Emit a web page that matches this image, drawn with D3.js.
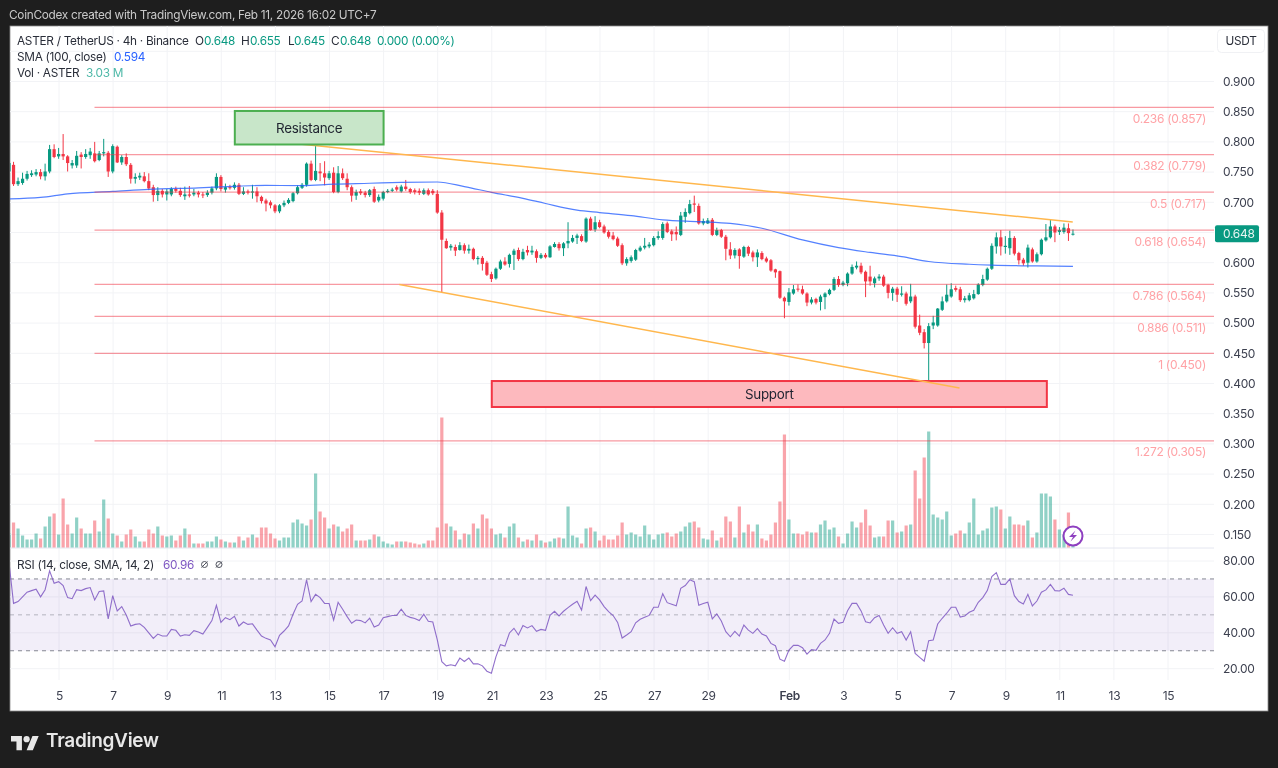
<!DOCTYPE html>
<html><head><meta charset="utf-8">
<script src="https://cdnjs.cloudflare.com/ajax/libs/d3/7.8.5/d3.min.js"></script>
<style>
html,body{margin:0;padding:0;background:#1e1e1e;overflow:hidden}
svg{display:block;font-family:Inter,"Open Sans",sans-serif;letter-spacing:-.28px;filter:blur(.4px)}
</style></head><body><svg id="c" width="1278" height="768"></svg>
<script>
const titleText = "CoinCodex created with TradingView.com, Feb 11, 2026 16:02 UTC+7";
const opens = [
.751,.762,.730,.732,.739,.745,.746,.750,.743,.751,
.788,.776,.780,.776,.761,.761,.779,.775,.778,.781,
.770,.781,.782,.751,.792,.766,.775,.762,.739,.741,
.743,.735,.725,.712,.719,.713,.713,.722,.719,.710,
.713,.713,.716,.713,.712,.716,.723,.742,.721,.725,
.724,.729,.714,.718,.716,.718,.709,.703,.700,.695,
.685,.695,.699,.702,.715,.724,.729,.764,.737,.751,
.748,.740,.749,.717,.748,.739,.725,.711,.718,.716,
.712,.722,.703,.706,.717,.719,.725,.718,.726,.722,
.720,.719,.714,.720,.719,.714,.683,.636,.625,.626,
.621,.629,.620,.623,.606,.608,.600,.581,.574,.590,
.602,.598,.613,.621,.606,.621,.617,.619,.608,.613,
.609,.626,.631,.624,.632,.635,.641,.644,.635,.673,
.655,.667,.660,.651,.645,.640,.629,.599,.603,.605,
.620,.625,.627,.629,.641,.641,.665,.652,.651,.646,
.676,.682,.698,.694,.665,.665,.671,.646,.654,.643,
.622,.612,.622,.610,.626,.617,.609,.616,.607,.604,
.589,.586,.542,.535,.549,.557,.556,.549,.534,.540,
.535,.543,.548,.555,.573,.563,.566,.582,.592,.595,
.585,.577,.566,.574,.577,.563,.550,.557,.547,.549,
.536,.544,.496,.485,.467,.496,.496,.522,.536,.544,
.558,.556,.538,.538,.541,.548,.563,.572,.590,.627,
.642,.626,.624,.641,.616,.605,.600,.622,.602,.614,
.637,.642,.660,.651,.651,.657,.648];
const closes = [
.765,.730,.735,.739,.747,.748,.750,.743,.751,.788,
.775,.780,.776,.765,.765,.777,.775,.780,.784,.768,
.781,.783,.751,.793,.766,.775,.763,.739,.742,.744,
.735,.723,.712,.719,.713,.718,.722,.719,.712,.713,
.711,.716,.713,.712,.716,.723,.742,.722,.725,.724,
.729,.714,.718,.716,.718,.710,.702,.698,.695,.685,
.695,.699,.704,.715,.725,.729,.764,.737,.752,.748,
.741,.748,.717,.748,.740,.725,.711,.717,.715,.712,
.720,.701,.709,.717,.719,.721,.721,.726,.722,.717,
.717,.716,.720,.713,.715,.683,.638,.624,.628,.620,
.629,.620,.623,.606,.608,.598,.580,.573,.590,.602,
.597,.613,.620,.606,.618,.617,.620,.608,.613,.609,
.627,.631,.624,.632,.636,.641,.645,.636,.673,.654,
.667,.659,.650,.643,.639,.628,.599,.606,.609,.621,
.625,.628,.630,.641,.644,.664,.651,.647,.647,.678,
.684,.697,.696,.665,.669,.670,.646,.654,.643,.623,
.612,.621,.611,.626,.615,.609,.617,.606,.602,.587,
.584,.542,.536,.551,.556,.556,.549,.534,.539,.534,
.544,.549,.555,.573,.563,.567,.582,.593,.595,.584,
.569,.569,.574,.577,.562,.550,.557,.547,.549,.532,
.544,.494,.484,.467,.495,.501,.524,.536,.547,.556,
.555,.538,.541,.546,.548,.564,.573,.590,.628,.642,
.627,.628,.641,.615,.604,.599,.625,.602,.614,.638,
.642,.660,.650,.654,.658,.649,.648];
const highs = [
.768,.767,.741,.749,.752,.753,.755,.755,.764,.795,
.796,.790,.813,.778,.770,.785,.783,.788,.790,.800,
.785,.805,.785,.796,.794,.778,.781,.765,.748,.749,
.750,.748,.729,.725,.722,.722,.725,.726,.724,.726,
.727,.722,.719,.717,.720,.726,.748,.745,.731,.729,
.733,.732,.725,.721,.729,.725,.711,.706,.703,.697,
.697,.703,.707,.717,.728,.732,.766,.769,.797,.765,
.768,.752,.758,.760,.756,.748,.728,.721,.722,.719,
.722,.726,.713,.719,.722,.724,.728,.729,.737,.724,
.723,.723,.723,.723,.722,.720,.687,.640,.631,.630,
.634,.632,.630,.625,.611,.611,.603,.585,.592,.605,
.609,.615,.623,.625,.623,.628,.628,.622,.616,.616,
.629,.634,.634,.634,.667,.646,.648,.647,.675,.676,
.677,.671,.663,.654,.651,.643,.632,.609,.612,.623,
.628,.641,.634,.644,.652,.667,.668,.655,.660,.684,
.690,.704,.711,.698,.673,.674,.674,.658,.656,.646,
.634,.624,.624,.628,.628,.620,.622,.619,.610,.606,
.590,.587,.544,.558,.563,.564,.562,.551,.543,.542,
.547,.551,.557,.576,.578,.570,.584,.597,.602,.600,
.587,.595,.577,.581,.580,.565,.560,.560,.561,.552,
.565,.547,.514,.490,.500,.512,.525,.544,.564,.566,
.562,.560,.545,.550,.555,.566,.580,.592,.632,.650,
.654,.644,.653,.644,.618,.608,.630,.625,.617,.640,
.664,.672,.663,.659,.665,.665,.655];
const lows = [
.748,.727,.727,.729,.736,.742,.743,.738,.736,.748,
.773,.772,.770,.751,.756,.757,.756,.772,.772,.766,
.768,.776,.742,.748,.765,.762,.760,.731,.731,.737,
.733,.720,.701,.702,.708,.703,.710,.716,.709,.704,
.708,.710,.708,.707,.709,.713,.720,.718,.716,.721,
.721,.712,.712,.713,.706,.700,.698,.685,.690,.682,
.682,.692,.697,.700,.713,.722,.726,.735,.735,.735,
.728,.737,.715,.715,.737,.720,.701,.704,.712,.708,
.709,.699,.700,.703,.715,.717,.718,.716,.719,.714,
.713,.712,.712,.711,.712,.681,.551,.623,.620,.611,
.620,.615,.615,.604,.597,.587,.578,.568,.572,.588,
.595,.592,.588,.603,.604,.612,.613,.600,.606,.607,
.608,.625,.620,.611,.624,.633,.631,.634,.633,.653,
.651,.657,.648,.640,.637,.626,.596,.595,.600,.603,
.618,.622,.624,.627,.638,.638,.649,.636,.637,.644,
.666,.680,.684,.663,.662,.664,.644,.644,.641,.604,
.606,.607,.590,.608,.611,.602,.593,.604,.600,.585,
.575,.540,.508,.529,.547,.552,.547,.528,.531,.531,
.521,.523,.546,.553,.560,.561,.561,.580,.589,.581,
.543,.562,.559,.570,.560,.541,.537,.535,.544,.529,
.533,.491,.480,.458,.4025,.490,.494,.520,.534,.542,
.552,.535,.534,.536,.539,.547,.561,.570,.588,.615,
.612,.615,.613,.612,.597,.595,.592,.600,.600,.612,
.635,.640,.634,.646,.648,.636,.645];
const volumes = [
14,25,19,12,8,8,14,9,21,31,
34,13,49,23,14,30,19,14,14,27,
16,48,29,14,12,6,13,18,11,6,
6,18,14,21,12,11,12,7,12,19,
13,4,4,4,6,6,11,8,6,5,
5,11,7,10,13,10,20,20,14,9,
7,10,10,25,28,24,22,28,74,36,
30,19,23,21,16,19,23,7,7,7,
8,13,11,6,4,3,6,6,6,5,
4,3,4,7,7,20,130,24,21,17,
8,14,13,24,19,33,29,19,13,14,
10,21,24,10,6,8,7,13,7,5,
6,9,10,9,41,12,10,4,19,20,
16,7,12,8,8,12,25,13,15,13,
11,22,13,8,13,14,15,11,14,16,
21,25,26,20,9,8,17,7,10,31,
26,10,41,15,23,16,23,9,7,13,
25,46,113,28,14,14,13,16,15,15,
23,27,18,20,11,4,14,26,20,25,
38,22,10,11,11,27,27,15,16,22,
23,77,49,90,116,33,30,28,36,12,
14,17,14,25,49,13,17,19,40,41,
38,19,31,23,23,22,27,10,15,54,
54,51,28,18,13,35,3.03];
const rsiValues = [
79,56.4,57.4,60,62.6,63.5,64.3,60,64,74.5,
67.6,68.5,66.3,59.6,59,64,63.5,64.6,65.2,58.3,
63,63.3,47.7,60.7,52.2,54.6,49.9,43.8,44.7,45,
43,40,36.9,39.3,38.2,38.2,41.9,41.4,38.2,38.9,
38.6,41.2,40.4,39.3,43,46.8,55.3,45.8,48.4,47.3,
49.2,43.8,46,44.7,45,41.5,38.2,36.9,36,32.2,
38.6,41,43.8,50.3,55.9,57.7,69.5,57.4,61.4,59.6,
56.4,56.3,47.1,57,53.1,49,45.3,47.1,46.8,45.5,
48.2,43.2,44.3,48.4,49,49.6,49.7,53.1,49.7,48.6,
48,46.8,50.3,46.4,46,36,23.9,21.6,22.2,21.6,
25.9,24,25.9,22.7,22.7,21.6,18.6,17.5,26.6,33.4,
32.6,39.9,42.5,38.8,44,42.7,44,40.8,41.9,41.4,
49.7,52,49.4,52,54,55.9,57.6,52.7,65.8,57.9,
61,58.3,54.6,51.8,49.6,45.8,37.1,38.8,40.6,45.6,
47.5,48.6,49.7,54.2,54.2,61.8,56.8,55.9,55,64.8,
66.3,69.5,68.5,55.3,56.3,57,47.7,50.5,46.6,40.6,
37.8,40.8,38.2,44.3,41.5,39.7,42.3,39.3,38.2,34.1,
32.8,25.3,24.2,30.4,33,33,31.7,28.1,30.7,30.2,
34.1,36,39.7,47.7,45.3,45.8,52.3,56.4,56.4,52.2,
46.2,45.5,48.4,49.7,44.3,39.7,42.8,39.7,40.6,36,
40.6,28.5,26.3,24.2,35.6,36,44.9,48.1,50.9,54.2,
54.2,48.8,49.4,51.4,52.5,57,59.6,63.5,71.3,73.5,
67,67,70,60.7,57.4,56,61.4,55,57.7,62.6,
63.9,67,63.5,63.3,64.8,61.4,60.96];
const smaBars = [0,7,13,23,31,42,50,57,65,72,80,87,95,101,107,114,119,126,131,138,145,153,160,167,176,184,191,198,204,213,218,228,236];
const smaValues = [.7055,.708,.714,.718,.7215,.724,.7265,.728,.7276,.730,.7315,.733,.7336,.726,.7165,.7066,.698,.687,.683,.678,.671,.668,.665,.657,.6377,.625,.617,.610,.602,.5974,.596,.5946,.594];
const fibLevels = ["0.236","0.382","0.5","0.618","0.786","0.886","1","1.272"];
const fibPrices = [.857,.779,.717,.654,.564,.511,.450,.305];
const priceTicks = [.15,.2,.25,.3,.35,.4,.45,.5,.55,.6,.65,.7,.75,.8,.85,.9];
const rsiTicks = [20,40,60,80];
const rsiLevels = [70,50,30];
const dayTicks = ["2026-01-05","2026-01-07","2026-01-09","2026-01-11","2026-01-13","2026-01-15","2026-01-17","2026-01-19","2026-01-21","2026-01-23","2026-01-25","2026-01-27","2026-01-29","2026-02-01","2026-02-03","2026-02-05","2026-02-07","2026-02-09","2026-02-11","2026-02-13","2026-02-15"];
const trendStart = ["2026-01-13T17:00Z","2026-01-17T14:00Z"];
const trendEnd = ["2026-02-11T11:30Z","2026-02-07T07:00Z"];
const trendFrom = [.7974,.5639];
const trendTo = [.6674,.3925];
const fibStart = "2026-01-06T07:30Z";
const boxNames = ["Resistance","Support"];
const boxStart = ["2026-01-11T12:00Z","2026-01-21T00:00Z"];
const boxEnd = ["2026-01-17T00:00Z","2026-02-10T12:30Z"];
const boxTop = [.8512,.4041];
const boxBottom = [.7957,.3611];
const boxFill = ["#c8e6c9","#fdb9be"];
const boxStroke = ["#4caf50","#f23645"];

const up="#089981", dn="#f23645", ink="#2a2e39";
const svg=d3.select("#c");
const L=10,R=1214,FR=1268,T=26,MB=548,RT=548,RB=680,FB=711;
const x=d3.scaleUtc().domain([new Date("2026-01-05T00:00Z"),new Date("2026-02-15T00:00Z")]).range([59,1168]);
const y=d3.scaleLinear().domain([.15,.9]).range([534.5,81.5]);
const yv=d3.scaleLinear().domain([0,130]).range([547.5,417.5]);
const yr=d3.scaleLinear().domain([20,80]).range([668.7,561]);
const barTime=i=>new Date(Date.UTC(2026,0,3,3,40)+i*4*3600e3);
const bx=i=>x(barTime(i));

svg.append("rect").attr("width",1278).attr("height",768).attr("fill","#1e1e1e");
svg.append("rect").attr("x",L).attr("y",T).attr("width",FR-L).attr("height",FB-T).attr("fill","#fff").attr("stroke","#8c8c8c").attr("stroke-width",.8);
svg.append("text").text(titleText).attr("x",9).attr("y",19).attr("font-size",11.8).attr("fill","#c9c9c9").attr("id","ttl");

const defs=svg.append("defs");
defs.append("clipPath").attr("id","pm").append("rect").attr("x",L).attr("y",T).attr("width",R-L).attr("height",MB-T);
defs.append("clipPath").attr("id","pr").append("rect").attr("x",L).attr("y",RT).attr("width",R-L).attr("height",RB-RT);

// grid
const grid=svg.append("g").attr("stroke","#f2f3f6").attr("stroke-width",1);
const dates=dayTicks.map(d=>new Date(d+"T00:00Z"));
grid.selectAll("line.v").data(dates).join("line").attr("x1",d=>x(d)).attr("x2",d=>x(d)).attr("y1",T).attr("y2",RB);
grid.selectAll("line.h").data(priceTicks.concat([.95])).join("line").attr("class","h").attr("x1",L).attr("x2",R).attr("y1",d=>y(d)).attr("y2",d=>y(d));
grid.selectAll("line.r").data(rsiTicks).join("line").attr("class","r").attr("x1",L).attr("x2",R).attr("y1",d=>yr(d)).attr("y2",d=>yr(d));
svg.append("line").attr("x1",L).attr("x2",R).attr("y1",548).attr("y2",548).attr("stroke","#e4e6f0");

// volume + candles
const main=svg.append("g").attr("clip-path","url(#pm)");
const idx=d3.range(closes.length);
const isUp=i=>closes[i]>=opens[i];
main.append("g").selectAll("rect").data(idx).join("rect")
 .attr("x",i=>bx(i)-1.6).attr("width",3.2).attr("y",i=>yv(volumes[i])).attr("height",i=>yv(0)-yv(volumes[i]))
 .attr("fill",i=>isUp(i)?up:dn).attr("opacity",.45);
main.append("g").selectAll("line").data(idx).join("line")
 .attr("x1",i=>bx(i)).attr("x2",i=>bx(i)).attr("y1",i=>y(highs[i])).attr("y2",i=>y(lows[i]))
 .attr("stroke",i=>isUp(i)?up:dn).attr("stroke-width",1);
main.append("g").selectAll("rect").data(idx).join("rect")
 .attr("x",i=>bx(i)-1.6).attr("width",3.2).attr("y",i=>y(Math.max(opens[i],closes[i])))
 .attr("height",i=>Math.max(1,Math.abs(y(opens[i])-y(closes[i]))))
 .attr("fill",i=>isUp(i)?up:dn);

// SMA
main.append("path").datum(smaBars.map((b,k)=>[b,smaValues[k]]))
 .attr("d",d3.line().x(d=>bx(d[0])).y(d=>y(d[1])).curve(d3.curveMonotoneX))
 .attr("fill","none").attr("stroke","#2962ff").attr("stroke-opacity",.8).attr("stroke-width",1.2);

// fib
const fx0=x(new Date(fibStart));
main.append("g").selectAll("line").data(fibPrices).join("line")
 .attr("x1",fx0).attr("x2",R).attr("y1",d=>y(d)).attr("y2",d=>y(d))
 .attr("stroke","#f23645").attr("stroke-opacity",.5).attr("stroke-width",1.3);
main.append("g").selectAll("text").data(fibPrices).join("text")
 .text((d,i)=>fibLevels[i]+" ("+d.toFixed(3)+")")
 .attr("x",1206).attr("y",d=>y(d)+15.5).attr("text-anchor","end").attr("font-size",12).attr("fill","#ffa2a6");

// boxes and trend lines, in the reference's stacking order
function drawBox(i){
 const n=boxNames[i],x0=x(new Date(boxStart[i])),x1=x(new Date(boxEnd[i])),y0=y(boxTop[i]),y1=y(boxBottom[i]);
 main.append("rect").attr("x",x0).attr("y",y0).attr("width",x1-x0).attr("height",y1-y0)
  .attr("fill",boxFill[i]).attr("stroke",boxStroke[i]).attr("stroke-width",2);
 main.append("text").text(n).attr("x",(x0+x1)/2).attr("y",(y0+y1)/2+.5).attr("dy",".36em")
  .attr("text-anchor","middle").attr("font-size",13.4).attr("fill","#1f2330");
}
drawBox(1);
main.append("g").selectAll("line").data(trendFrom).join("line")
 .attr("x1",(d,i)=>x(new Date(trendStart[i]))).attr("x2",(d,i)=>x(new Date(trendEnd[i])))
 .attr("y1",d=>y(d)).attr("y2",(d,i)=>y(trendTo[i]))
 .attr("stroke","#ffb74d").attr("stroke-width",1.5);
drawBox(0);

// RSI
const rp=svg.append("g").attr("clip-path","url(#pr)");
rp.append("rect").attr("x",L).attr("width",R-L).attr("y",yr(70)).attr("height",yr(30)-yr(70)).attr("fill","#7e57c2").attr("opacity",.1);
rp.append("g").selectAll("line").data(rsiLevels).join("line")
 .attr("x1",L).attr("x2",R).attr("y1",d=>yr(d)).attr("y2",d=>yr(d))
 .attr("stroke","#787b86").attr("stroke-dasharray","4 4").attr("stroke-opacity",d=>d==50?.5:.9);
rp.append("path").datum(rsiValues).attr("d",d3.line().x((d,i)=>bx(i)).y(d=>yr(d)))
 .attr("fill","none").attr("stroke","#7e57c2").attr("stroke-opacity",.85).attr("stroke-width",1.1);

// axes
const stripAxis=g=>{g.select(".domain").remove();g.selectAll(".tick line").remove();g.selectAll("text").attr("font-family","Inter").attr("font-size",12).attr("fill","#3d4150");};
svg.append("g").attr("transform","translate(1223,0)").call(d3.axisRight(y).tickValues(priceTicks).tickFormat(d3.format(".3f")).tickSize(0).tickPadding(0)).call(stripAxis);
svg.append("g").attr("transform","translate(1223,0)").call(d3.axisRight(yr).tickValues(rsiTicks).tickFormat(d3.format(".2f")).tickSize(0).tickPadding(0)).call(stripAxis);
const xa=svg.append("g").attr("transform","translate(0,691)").call(d3.axisBottom(x).tickValues(dates).tickFormat(d=>d.getUTCDate()==1?"Feb":d.getUTCDate()).tickSize(0).tickPadding(0)).call(stripAxis);
xa.selectAll("text").filter(d=>d.getUTCDate()==1).attr("font-weight",600);

// last price tag
const lastClose=closes[closes.length-1];
const yl=y(lastClose);
svg.append("rect").attr("x",1215).attr("y",yl-8.5).attr("width",44).attr("height",17).attr("rx",2).attr("fill",up);
svg.append("text").text(lastClose.toFixed(3)).attr("x",1223).attr("y",yl).attr("dy",".36em").attr("font-size",12).attr("fill","#e8f5f2");
// unit button
svg.append("rect").attr("x",1217.5).attr("y",29.5).attr("width",47).attr("height",23).attr("rx",4).attr("fill","#fff").attr("stroke","#f0f1f4");
svg.append("text").text("USDT").attr("x",1241).attr("y",41).attr("dy",".36em").attr("text-anchor","middle").attr("font-size",11.8).attr("fill",ink);

// legends
function seq(yy,parts){parts.forEach(p=>svg.append("text").text(p[1]).attr("x",p[0]).attr("y",yy).attr("dy",".36em").attr("font-size",p[3]||11.8).attr("fill",p[2]));}
seq(40.5,[[17,"ASTER / TetherUS · 4h · Binance",ink],[195,"O",ink],[204,opens[236].toFixed(3),up],[241,"H",ink],[250,highs[236].toFixed(3),up],[288,"L",ink],[294,lows[236].toFixed(3),up],[331,"C",ink],[340,closes[236].toFixed(3),up],[377,"0.000 (0.00%)",up]]);
seq(56.5,[[17,"SMA (100, close)",ink],[114,smaValues[smaValues.length-1].toFixed(3),"#2962ff"]]);
seq(72.5,[[17,"Vol · ASTER",ink],[86,volumes[236].toFixed(2)+" M","#4db8a7"]]);
seq(564.5,[[17,"RSI (14, close, SMA, 14, 2)",ink],[163,rsiValues[236].toFixed(2),"#7e57c2"]]);
[204.5,219].forEach(cx=>{
 const g=svg.append("g").attr("fill","none").attr("stroke","#50535e").attr("stroke-width",1);
 g.append("circle").attr("cx",cx).attr("cy",564.5).attr("r",3);
 g.append("line").attr("x1",cx-3).attr("x2",cx+3).attr("y1",567.5).attr("y2",561.5);
});

// bolt badge
svg.append("circle").attr("cx",1073).attr("cy",536).attr("r",9.5).attr("fill","#fff").attr("stroke","#8e3fc0").attr("stroke-width",2);
svg.append("path").attr("d","M1075.5 530.5L1069 537H1073L1070.5 541.5L1077 535H1073Z").attr("fill","#8e3fc0");

// logo
const lg=svg.append("g").attr("transform","translate(11,733) scale(.78)").attr("fill","#e8e8e8");
lg.append("path").attr("d","M14 22H7V11H0V4h14v18zM28 22h-8l7.5-18h8L28 22z");
lg.append("circle").attr("cx",20).attr("cy",8).attr("r",4);
svg.append("text").text("TradingView").attr("x",46).attr("y",747).attr("font-size",19).attr("font-weight",600).attr("fill","#e8e8e8");
</script></body></html>
